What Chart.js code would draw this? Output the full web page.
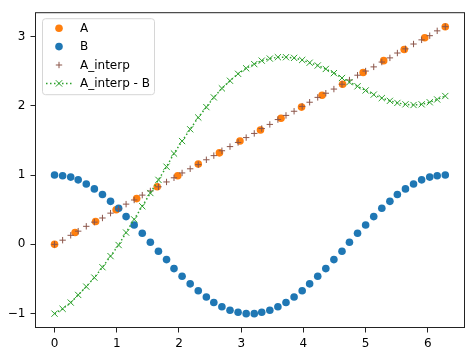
<!DOCTYPE html>
<html>
<head>
<meta charset="utf-8">
<script src="https://cdn.jsdelivr.net/npm/chart.js@4"></script>
<style>
  body { margin: 0; background: #fff; }
  canvas { display: block; }
</style>
</head>
<body>
<canvas id="chart" width="474" height="358"></canvas>
<script>
// A: coarse samples
const xA = [0, 0.33, 0.66, 0.99, 1.32, 1.65, 1.98, 2.31, 2.65, 2.98, 3.31, 3.64, 3.97, 4.30, 4.63, 4.96, 5.29, 5.62, 5.95, 6.28];
const yA = [0, 0.17, 0.33, 0.50, 0.66, 0.83, 0.99, 1.16, 1.32, 1.49, 1.65, 1.82, 1.98, 2.15, 2.31, 2.48, 2.65, 2.81, 2.98, 3.14];

// B: fine samples (also the x positions of A_interp)
const xB = [0, 0.13, 0.26, 0.38, 0.51, 0.64, 0.77, 0.90, 1.03, 1.15, 1.28, 1.41, 1.54, 1.67, 1.80, 1.92, 2.05, 2.18, 2.31, 2.44,
            2.56, 2.69, 2.82, 2.95, 3.08, 3.21, 3.33, 3.46, 3.59, 3.72, 3.85, 3.98, 4.10, 4.23, 4.36, 4.49, 4.62, 4.74, 4.87, 5.00,
            5.13, 5.26, 5.39, 5.51, 5.64, 5.77, 5.90, 6.03, 6.15, 6.28];
const yB = [1.00, 0.99, 0.97, 0.93, 0.87, 0.80, 0.72, 0.62, 0.52, 0.40, 0.28, 0.16, 0.03, -0.10, -0.22, -0.35, -0.46, -0.57, -0.67, -0.76,
            -0.84, -0.90, -0.95, -0.98, -1.00, -1.00, -0.98, -0.95, -0.90, -0.84, -0.76, -0.67, -0.57, -0.46, -0.35, -0.22, -0.10, 0.03, 0.16, 0.28,
            0.40, 0.52, 0.62, 0.72, 0.80, 0.87, 0.93, 0.97, 0.99, 1.00];
const yAinterp = [0.00, 0.06, 0.13, 0.19, 0.26, 0.32, 0.38, 0.45, 0.51, 0.58, 0.64, 0.71, 0.77, 0.83, 0.90, 0.96, 1.03, 1.09, 1.15, 1.22,
                  1.28, 1.35, 1.41, 1.47, 1.54, 1.60, 1.67, 1.73, 1.80, 1.86, 1.92, 1.99, 2.05, 2.12, 2.18, 2.24, 2.31, 2.37, 2.44, 2.50,
                  2.56, 2.63, 2.69, 2.76, 2.82, 2.89, 2.95, 3.01, 3.08, 3.14];
const yDiff = [-1.00, -0.93, -0.84, -0.73, -0.61, -0.48, -0.33, -0.17, -0.01, 0.17, 0.36, 0.55, 0.74, 0.93, 1.12, 1.31, 1.49, 1.66, 1.83, 1.98,
               2.12, 2.25, 2.36, 2.46, 2.54, 2.60, 2.65, 2.68, 2.70, 2.70, 2.69, 2.66, 2.62, 2.58, 2.53, 2.47, 2.40, 2.34, 2.28, 2.22,
               2.16, 2.11, 2.07, 2.04, 2.02, 2.01, 2.02, 2.05, 2.09, 2.14];

const labels = ['A', 'B', 'A_interp', 'A_interp - B'];
const xTicks = [0, 1, 2, 3, 4, 5, 6];
const yTicks = [-1, 0, 1, 2, 3];

const colors = ['#ff7f0e', '#1f77b4', '#8c564b', '#2ca02c'];
const FONT = '"DejaVu Sans", sans-serif';

function pts(xs, ys) {
    return xs.map((x, i) => ({ x: x, y: ys[i] }));
}

function fmt(v) {
    return v < 0 ? '\u2212' + Math.abs(v) : String(v);
}

// legend drawn inside the axes, matplotlib style
const insideLegend = {
    id: 'insideLegend',
    afterDraw(chart) {
        const ctx = chart.ctx;
        const a = chart.chartArea;
        ctx.save();
        // axes frame
        ctx.strokeStyle = '#222';
        ctx.lineWidth = 1;
        ctx.strokeRect(a.left + 0.5, a.top + 0.5, a.right - a.left - 1, a.bottom - a.top - 1);

        const bx = a.left + 7, by = a.top + 6, bw = 112, bh = 76;
        ctx.beginPath();
        ctx.roundRect(bx + 0.5, by + 0.5, bw, bh, 3);
        ctx.fillStyle = 'rgba(255,255,255,0.8)';
        ctx.fill();
        ctx.strokeStyle = '#d6d6d6';
        ctx.stroke();

        ctx.font = '12px ' + FONT;
        ctx.textBaseline = 'middle';
        ctx.fillStyle = '#000';
        labels.forEach((lab, i) => {
            const y = by + 10 + i * 18.4;
            const mx = bx + 17;
            const c = colors[i];
            if (i < 2) {
                ctx.beginPath();
                ctx.arc(mx, y, 3.8, 0, Math.PI * 2);
                ctx.fillStyle = c;
                ctx.fill();
            } else if (i === 2) {
                ctx.beginPath();
                ctx.moveTo(mx - 3.2, y); ctx.lineTo(mx + 3.2, y);
                ctx.moveTo(mx, y - 3.2); ctx.lineTo(mx, y + 3.2);
                ctx.strokeStyle = c;
                ctx.lineWidth = 1;
                ctx.stroke();
            } else {
                ctx.beginPath();
                ctx.setLineDash([1.5, 2.5]);
                ctx.moveTo(mx - 13, y); ctx.lineTo(mx + 13, y);
                ctx.strokeStyle = c;
                ctx.lineWidth = 1.5;
                ctx.stroke();
                ctx.setLineDash([]);
                ctx.beginPath();
                ctx.moveTo(mx - 3.2, y - 3.2); ctx.lineTo(mx + 3.2, y + 3.2);
                ctx.moveTo(mx - 3.2, y + 3.2); ctx.lineTo(mx + 3.2, y - 3.2);
                ctx.lineWidth = 1;
                ctx.stroke();
            }
            ctx.fillStyle = '#000';
            ctx.fillText(lab, bx + 38, y + 0.5);
        });
        ctx.restore();
    }
};

new Chart(document.getElementById('chart'), {
    type: 'scatter',
    data: {
        datasets: [
            {
                label: labels[0], data: pts(xA, yA), order: 4,
                pointStyle: 'circle', pointRadius: 3.8, pointBorderWidth: 0,
                backgroundColor: colors[0], borderColor: colors[0]
            },
            {
                label: labels[1], data: pts(xB, yB), order: 3,
                pointStyle: 'circle', pointRadius: 3.8, pointBorderWidth: 0,
                backgroundColor: colors[1], borderColor: colors[1]
            },
            {
                label: labels[2], data: pts(xB, yAinterp), order: 2,
                pointStyle: 'cross', pointRadius: 3.2, pointBorderWidth: 1,
                backgroundColor: colors[2], borderColor: colors[2]
            },
            {
                label: labels[3], data: pts(xB, yDiff), order: 1,
                showLine: true, borderDash: [1.5, 2.5], borderWidth: 1.5,
                pointStyle: 'crossRot', pointRadius: 4.4, pointBorderWidth: 1,
                backgroundColor: colors[3], borderColor: colors[3]
            }
        ]
    },
    options: {
        responsive: false,
        animation: false,
        layout: { padding: { top: 9, right: 9, left: 0, bottom: 0 } },
        plugins: { legend: { display: false }, tooltip: { enabled: false } },
        scales: {
            x: {
                type: 'linear', min: -0.314, max: 6.597,
                afterBuildTicks: s => { s.ticks = xTicks.map(v => ({ value: v })); },
                afterFit: s => { s.height = 30; },
                grid: { drawOnChartArea: false, drawTicks: true, tickLength: 4.5, color: '#222' },
                border: { display: false },
                ticks: { color: '#000', padding: 4, font: { family: FONT, size: 12 }, callback: fmt, maxRotation: 0 }
            },
            y: {
                type: 'linear', min: -1.207, max: 3.349,
                afterBuildTicks: s => { s.ticks = yTicks.map(v => ({ value: v })); },
                afterFit: s => { s.width = 35; },
                grid: { drawOnChartArea: false, drawTicks: true, tickLength: 4.5, color: '#222' },
                border: { display: false },
                ticks: { color: '#000', padding: 5, font: { family: FONT, size: 12 }, callback: fmt }
            }
        }
    },
    plugins: [insideLegend]
});
</script>
</body>
</html>
